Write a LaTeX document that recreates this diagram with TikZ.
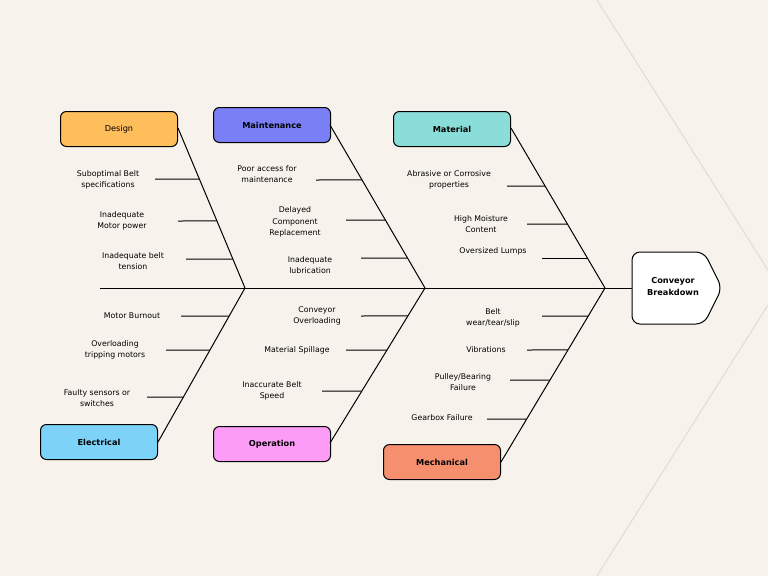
\documentclass[tikz,border=0pt]{standalone}
\usepackage{fontspec}
\setmainfont{DejaVu Sans}
\usetikzlibrary{calc}
\definecolor{bg}{HTML}{F7F3EC}
\definecolor{diag}{HTML}{E3DCC8}
\definecolor{cDesign}{HTML}{FFBE5C}
\definecolor{cMaint}{HTML}{7B7FF5}
\definecolor{cMat}{HTML}{8ADDD8}
\definecolor{cElec}{HTML}{7DD3F7}
\definecolor{cOper}{HTML}{FC9CF7}
\definecolor{cMech}{HTML}{F58F6E}
\tikzset{
  cat/.style={draw=black, line width=1pt, rounded corners=6pt, minimum width=117pt, minimum height=35pt, font=\fontsize{8.2}{9}\selectfont\bfseries, inner sep=0pt},
  lbl/.style={align=center, font=\fontsize{7.8}{11.5}\selectfont, inner sep=1pt},
  bone/.style={line width=1pt, black},
}
\begin{document}
\begin{tikzpicture}[x=1pt,y=-1pt]
\fill[bg] (0,0) rectangle (768,576);
\useasboundingbox (0,0) rectangle (768,576);
\draw[diag, line width=1pt] (597,0) -- (768,270);
\draw[diag, line width=1pt] (768,305) -- (597,576);
% head
\node[coordinate] (hl) at (632,288) {};
\draw[line width=1pt, fill=white, rounded corners=8pt] (632,252) -- (704,252) -- (722,288) -- (704,324) -- (632,324) -- cycle;
\node[font=\fontsize{8.2}{12}\selectfont\bfseries, align=center] (head) at (673,287) {Conveyor\\Breakdown};
\coordinate (s0) at (100,288);
\draw[bone] (s0) -- (hl);
% categories
\node[cat, fill=cDesign, font=\fontsize{8.2}{9}\selectfont] (design) at (119,129) {Design};
\node[cat, fill=cMaint] (maint) at (272,125) {Maintenance};
\node[cat, fill=cMat] (mat) at (452,129) {Material};
\node[cat, fill=cElec] (elec) at (99,442) {Electrical};
\node[cat, fill=cOper] (oper) at (272,444) {Operation};
\node[cat, fill=cMech] (mech) at (442,462) {Mechanical};
\coordinate (dT) at (178,128); \coordinate (dB) at (245,288);
\coordinate (mT) at (330,125); \coordinate (mB) at (425,288);
\coordinate (aT) at (511,128); \coordinate (aB) at (605,288);
\coordinate (eT) at (158,442); \coordinate (eB) at (245,288);
\coordinate (oT) at (330,443); \coordinate (oB) at (425,288);
\coordinate (kT) at (501,462); \coordinate (kB) at (605,288);
\foreach \a in {d,m,a,e,o,k} {\draw[bone] (\a T) -- (\a B);}
% Design
\node[lbl] (d1) at (108,180) {Suboptimal Belt\\specifications};
\node[lbl] (d2) at (122,221) {Inadequate\\Motor power};
\node[lbl] (d3) at (133,261) {Inadequate belt\\tension};
\draw[bone] (155,179) -- ($(dT)!0.319!(dB)$);
\draw[bone] (178,221) -- ($(dT)!0.581!(dB)$);
\draw[bone] (186,259) -- ($(dT)!0.819!(dB)$);
% Maintenance
\node[lbl] (m1) at (267,174) {Poor access for\\maintenance};
\node[lbl] (m2) at (295,222) {Delayed\\Component\\Replacement};
\node[lbl] (m3) at (310,265) {Inadequate\\lubrication};
\draw[bone] (316,180) -- ($(mT)!0.337!(mB)$);
\draw[bone] (346,220) -- ($(mT)!0.583!(mB)$);
\draw[bone] (361,258) -- ($(mT)!0.816!(mB)$);
% Material
\node[lbl] (a1) at (449,180) {Abrasive or Corrosive\\properties};
\node[lbl] (a2) at (481,224) {High Moisture\\Content};
\node[lbl] (a3) at (493,251) {Oversized Lumps};
\draw[bone] (507,186) -- ($(aT)!0.3625!(aB)$);
\draw[bone] (527,224) -- ($(aT)!0.6!(aB)$);
\draw[bone] (542,258) -- ($(aT)!0.8125!(aB)$);
% Electrical
\node[lbl] (e1) at (132,316) {Motor Burnout};
\node[lbl] (e2) at (115,350) {Overloading\\tripping motors};
\node[lbl] (e3) at (97,398) {Faulty sensors or\\switches};
\draw[bone] (181,316) -- ($(eB)!0.182!(eT)$);
\draw[bone] (166,350) -- ($(eB)!0.403!(eT)$);
\draw[bone] (147,397) -- ($(eB)!0.708!(eT)$);
% Operation
\node[lbl] (o1) at (317,316) {Conveyor\\Overloading};
\node[lbl] (o2) at (297,350) {Material Spillage};
\node[lbl] (o3) at (272,391) {Inaccurate Belt\\Speed};
\draw[bone] (361,316) -- ($(oB)!0.18!(oT)$);
\draw[bone] (346,350) -- ($(oB)!0.4!(oT)$);
\draw[bone] (322,391) -- ($(oB)!0.665!(oT)$);
% Mechanical
\node[lbl] (k1) at (493,318) {Belt\\wear/tear/slip};
\node[lbl] (k2) at (486,350) {Vibrations};
\node[lbl] (k3) at (463,382) {Pulley/Bearing\\Failure};
\node[lbl] (k4) at (442,418) {Gearbox Failure};
\draw[bone] (542,316) -- ($(kB)!0.161!(kT)$);
\draw[bone] (527,350) -- ($(kB)!0.356!(kT)$);
\draw[bone] (510,380) -- ($(kB)!0.529!(kT)$);
\draw[bone] (487,419) -- ($(kB)!0.753!(kT)$);
\end{tikzpicture}
\end{document}
